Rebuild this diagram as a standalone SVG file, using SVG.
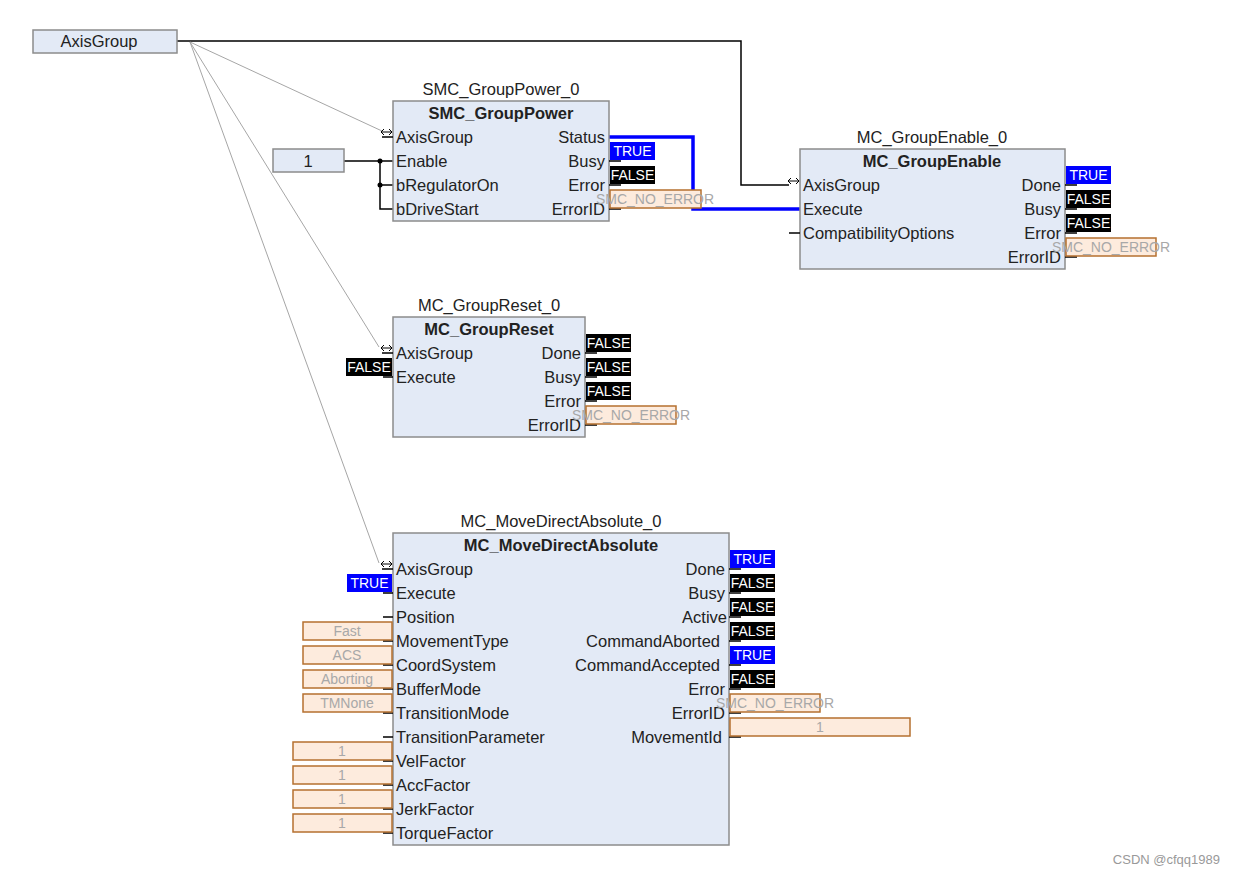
<svg xmlns="http://www.w3.org/2000/svg" xmlns:xlink="http://www.w3.org/1999/xlink" width="1235" height="876" viewBox="0 0 1235 876">
<style>
.bg{fill:#ffffff}
.blk{fill:#e3eaf6;stroke:#8c8c8c;stroke-width:1.5}
.t{font-family:"Liberation Sans",Arial,sans-serif;font-size:16.5px;fill:#222222}
.h{font-weight:bold;text-anchor:middle}
.m{text-anchor:middle}
.r{text-anchor:end}
.vt{fill:#0000ff}
.vf{fill:#000000}
.vo{fill:#fdebdd;stroke:#b5702f;stroke-width:1.5}
.vtx{font-family:"Liberation Sans",Arial,sans-serif;font-size:14px;fill:#ffffff;text-anchor:middle}
.gtx{font-family:"Liberation Sans",Arial,sans-serif;font-size:14px;fill:#a8a8a8;text-anchor:middle}
.stub{stroke:#000000;stroke-width:1.5;fill:none}
.wire{stroke:#000000;stroke-width:1.5;fill:none}
.gw{stroke:#a6a6a6;stroke-width:1;fill:none}
.bw{stroke:#0000ff;stroke-width:3.5;fill:none}
.io{stroke:#000000;stroke-width:1;fill:none}
</style>
<defs>
<g id="io">
<path class="io" d="M0,0 h11 M0,0 l3,-3 M0,0 l3,3 M11,0 l-3,-3 M11,0 l-3,3"/>
</g>
</defs>
<rect class="bg" x="0" y="0" width="1235" height="876"/>

<g id="connectors">
<path class="wire" d="M177,41 H741 V185 H789"/>
<path class="gw" d="M190,42 L382,131"/>
<path class="gw" d="M190,42 L379,347"/>
<path class="gw" d="M190,42 L379,563"/>
<path class="wire" d="M344,161 H393 M380,161 V209 H393 M380,185 H393"/>
<circle cx="380" cy="161" r="2.5" fill="#000"/>
<circle cx="380" cy="185" r="2.5" fill="#000"/>
<path class="bw" d="M609,137 H693 V209 H800"/>
</g>

<g id="AxisGroupVar">
<rect class="blk" x="33" y="30" width="144" height="23"/>
<text class="t m" x="99" y="47">AxisGroup</text>
</g>

<g id="Const1">
<rect class="blk" x="273" y="149" width="71" height="23"/>
<text class="t m" x="308" y="167">1</text>
</g>

<g id="SMC_GroupPower_0">
<text class="t m" x="501" y="95">SMC_GroupPower_0</text>
<rect class="blk" x="393" y="101" width="216" height="120"/>
<text class="t h" x="501" y="119">SMC_GroupPower</text>
<path class="stub" d="M382,137 H393"/>
<use xlink:href="#io" x="381" y="132"/>
<text class="t" x="396" y="143">AxisGroup</text>
<text class="t" x="396" y="167">Enable</text>
<text class="t" x="396" y="191">bRegulatorOn</text>
<text class="t" x="396" y="215">bDriveStart</text>
<text class="t r" x="605" y="143">Status</text>
<text class="t r" x="605" y="167">Busy</text>
<text class="t r" x="605" y="191">Error</text>
<text class="t r" x="605" y="215">ErrorID</text>
<path class="stub" d="M609,161 H621 M609,185 H621 M609,209 H621"/>
<rect class="vt" x="610" y="142" width="45" height="18"/>
<text class="vtx" x="632.5" y="156">TRUE</text>
<rect class="vf" x="610" y="166" width="45" height="18"/>
<text class="vtx" x="632.5" y="180">FALSE</text>
<rect class="vo" x="610" y="190" width="91" height="18"/>
<text class="gtx" x="655" y="204">SMC_NO_ERROR</text>
</g>

<g id="MC_GroupEnable_0">
<text class="t m" x="932" y="143">MC_GroupEnable_0</text>
<rect class="blk" x="800" y="149" width="265" height="120"/>
<text class="t h" x="932" y="167">MC_GroupEnable</text>
<use xlink:href="#io" x="788" y="181"/>
<path class="stub" d="M789,233 H800"/>
<text class="t" x="803" y="191">AxisGroup</text>
<text class="t" x="803" y="215">Execute</text>
<text class="t" x="803" y="239">CompatibilityOptions</text>
<text class="t r" x="1061" y="191">Done</text>
<text class="t r" x="1061" y="215">Busy</text>
<text class="t r" x="1061" y="239">Error</text>
<text class="t r" x="1061" y="263">ErrorID</text>
<path class="stub" d="M1065,185 H1077 M1065,209 H1077 M1065,233 H1077 M1065,257 H1077"/>
<rect class="vt" x="1066" y="166" width="45" height="18"/>
<text class="vtx" x="1088.5" y="180">TRUE</text>
<rect class="vf" x="1066" y="190" width="45" height="18"/>
<text class="vtx" x="1088.5" y="204">FALSE</text>
<rect class="vf" x="1066" y="214" width="45" height="18"/>
<text class="vtx" x="1088.5" y="228">FALSE</text>
<rect class="vo" x="1066" y="238" width="90" height="18"/>
<text class="gtx" x="1111" y="252">SMC_NO_ERROR</text>
</g>

<g id="MC_GroupReset_0">
<text class="t m" x="489" y="311">MC_GroupReset_0</text>
<rect class="blk" x="393" y="317" width="192" height="120"/>
<text class="t h" x="489" y="335">MC_GroupReset</text>
<path class="stub" d="M382,353 H393 M383,377 H393"/>
<use xlink:href="#io" x="381" y="348"/>
<rect class="vf" x="346" y="358" width="46" height="18"/>
<text class="vtx" x="369" y="372">FALSE</text>
<text class="t" x="396" y="359">AxisGroup</text>
<text class="t" x="396" y="383">Execute</text>
<text class="t r" x="581" y="359">Done</text>
<text class="t r" x="581" y="383">Busy</text>
<text class="t r" x="581" y="407">Error</text>
<text class="t r" x="581" y="431">ErrorID</text>
<path class="stub" d="M585,353 H597 M585,377 H597 M585,401 H597 M585,425 H597"/>
<rect class="vf" x="586" y="334" width="45" height="18"/>
<text class="vtx" x="608.5" y="348">FALSE</text>
<rect class="vf" x="586" y="358" width="45" height="18"/>
<text class="vtx" x="608.5" y="372">FALSE</text>
<rect class="vf" x="586" y="382" width="45" height="18"/>
<text class="vtx" x="608.5" y="396">FALSE</text>
<rect class="vo" x="586" y="406" width="90" height="18"/>
<text class="gtx" x="631" y="420">SMC_NO_ERROR</text>
</g>

<g id="MC_MoveDirectAbsolute_0">
<text class="t m" x="561" y="527">MC_MoveDirectAbsolute_0</text>
<rect class="blk" x="393" y="533" width="336" height="312"/>
<text class="t h" x="561" y="551">MC_MoveDirectAbsolute</text>
<use xlink:href="#io" x="381" y="564"/>
<path class="stub" d="M382,569 H393 M383,593 H393 M383,617 H393 M383,641 H393 M383,665 H393 M383,689 H393 M383,713 H393 M383,737 H393 M383,761 H393 M383,785 H393 M383,809 H393 M383,833 H393"/>
<text class="t" x="396" y="575">AxisGroup</text>
<text class="t" x="396" y="599">Execute</text>
<text class="t" x="396" y="623">Position</text>
<text class="t" x="396" y="647">MovementType</text>
<text class="t" x="396" y="671">CoordSystem</text>
<text class="t" x="396" y="695">BufferMode</text>
<text class="t" x="396" y="719">TransitionMode</text>
<text class="t" x="396" y="743">TransitionParameter</text>
<text class="t" x="396" y="767">VelFactor</text>
<text class="t" x="396" y="791">AccFactor</text>
<text class="t" x="396" y="815">JerkFactor</text>
<text class="t" x="396" y="839">TorqueFactor</text>
<text class="t r" x="725" y="575">Done</text>
<text class="t r" x="725" y="599">Busy</text>
<text class="t r" x="727" y="623">Active</text>
<text class="t r" x="720" y="647">CommandAborted</text>
<text class="t r" x="720" y="671">CommandAccepted</text>
<text class="t r" x="725" y="695">Error</text>
<text class="t r" x="725" y="719">ErrorID</text>
<text class="t r" x="722" y="743">MovementId</text>
<rect class="vt" x="347" y="574" width="45" height="18"/>
<text class="vtx" x="369.5" y="588">TRUE</text>
<rect class="vo" x="303" y="622" width="89" height="18"/>
<text class="gtx" x="347" y="636" font-size="13">Fast</text>
<rect class="vo" x="303" y="646" width="89" height="18"/>
<text class="gtx" x="347" y="660" font-size="13">ACS</text>
<rect class="vo" x="303" y="670" width="89" height="18"/>
<text class="gtx" x="347" y="684" font-size="13">Aborting</text>
<rect class="vo" x="303" y="694" width="89" height="18"/>
<text class="gtx" x="347" y="708" font-size="13">TMNone</text>
<rect class="vo" x="293" y="742" width="99" height="18"/>
<text class="gtx" x="342" y="756" font-size="13">1</text>
<rect class="vo" x="293" y="766" width="99" height="18"/>
<text class="gtx" x="342" y="780" font-size="13">1</text>
<rect class="vo" x="293" y="790" width="99" height="18"/>
<text class="gtx" x="342" y="804" font-size="13">1</text>
<rect class="vo" x="293" y="814" width="99" height="18"/>
<text class="gtx" x="342" y="828" font-size="13">1</text>
<path class="stub" d="M729,569 H741 M729,593 H741 M729,617 H741 M729,641 H741 M729,665 H741 M729,689 H741 M729,713 H741 M729,737 H741"/>
<rect class="vt" x="730" y="550" width="45" height="18"/>
<text class="vtx" x="752.5" y="564">TRUE</text>
<rect class="vf" x="730" y="574" width="45" height="18"/>
<text class="vtx" x="752.5" y="588">FALSE</text>
<rect class="vf" x="730" y="598" width="45" height="18"/>
<text class="vtx" x="752.5" y="612">FALSE</text>
<rect class="vf" x="730" y="622" width="45" height="18"/>
<text class="vtx" x="752.5" y="636">FALSE</text>
<rect class="vt" x="730" y="646" width="45" height="18"/>
<text class="vtx" x="752.5" y="660">TRUE</text>
<rect class="vf" x="730" y="670" width="45" height="18"/>
<text class="vtx" x="752.5" y="684">FALSE</text>
<rect class="vo" x="730" y="694" width="90" height="18"/>
<text class="gtx" x="775" y="708">SMC_NO_ERROR</text>
<rect class="vo" x="730" y="718" width="180" height="18"/>
<text class="gtx" x="820" y="732" font-size="13">1</text>
</g>

<text x="1220" y="864" font-family="Liberation Sans, Arial, sans-serif" font-size="13" fill="#999999" text-anchor="end">CSDN @cfqq1989</text>
</svg>
